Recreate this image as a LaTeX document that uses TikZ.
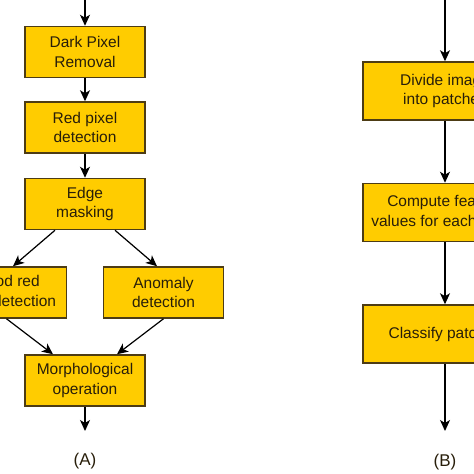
\documentclass[tikz,border=0pt]{standalone}
\usepackage{fontspec}
\setmainfont{Liberation Sans}
\usetikzlibrary{arrows.meta}
\definecolor{boxfill}{RGB}{255,204,0}
\definecolor{boxline}{RGB}{77,60,20}
\definecolor{txtcol}{RGB}{40,30,10}
\begin{document}
\begin{tikzpicture}[x=1pt,y=-1pt,
  box/.style={draw=boxline, fill=boxfill, line width=1.5pt, align=center,
    font=\fontsize{15.5}{19.5}\selectfont, text=txtcol, inner sep=0pt},
  lbox/.style={box, minimum width=120pt, minimum height=51pt},
  rbox/.style={box, minimum width=164pt, minimum height=58pt},
  arr/.style={-{Stealth[length=11pt,width=10pt,inset=3pt]}, line width=1.2pt, black},
  lab/.style={font=\fontsize{17}{20}\selectfont, text=txtcol}]
\useasboundingbox (0,0) rectangle (474,474);
\clip (0,0) rectangle (474,474);
\fill[white] (0,0) rectangle (474,474);
% left column
\coordinate (ltop) at (85,-5);
\node[lbox] (dpr) at (85,52) {Dark Pixel\\Removal};
\node[lbox] (rpd) at (85,127.5) {Red pixel\\detection};
\node[lbox] (edm) at (85,204) {Edge\\masking};
\node[lbox] (brd) at (6.5,292.5) {Blood red\\pixel detection};
\node[lbox] (ano) at (163.5,292.5) {Anomaly\\detection};
\node[lbox] (mor) at (85,380.5) {Morphological\\operation};
\coordinate (lbot) at (85,431);
\node[lab] (labA) at (85,461) {(A)};
\draw[arr] (ltop) -- (dpr.north);
\draw[arr] (dpr) -- (rpd);
\draw[arr] (rpd) -- (edm);
\draw[arr] ([xshift=-30pt]edm.south) -- ([xshift=6.5pt]brd.north);
\draw[arr] ([xshift=30pt]edm.south) -- ([xshift=-6.5pt]ano.north);
\draw[arr] (brd.south) -- ([xshift=-32pt]mor.north);
\draw[arr] (ano.south) -- ([xshift=32pt]mor.north);
\draw[arr] (mor.south) -- (lbot);
% right column
\coordinate (rtop) at (445,-5);
\node[rbox] (div) at (445,91) {Divide image\\into patches};
\node[rbox] (cfv) at (445,212.5) {Compute feature\\values for each patch};
\node[rbox] (cls) at (445,334) {Classify patches};
\coordinate (rbot) at (445,431);
\node[lab] (labB) at (445,462) {(B)};
\draw[arr] (rtop) -- (div.north);
\draw[arr] (div) -- (cfv);
\draw[arr] (cfv) -- (cls);
\draw[arr] (cls.south) -- (rbot);
\end{tikzpicture}
\end{document}
